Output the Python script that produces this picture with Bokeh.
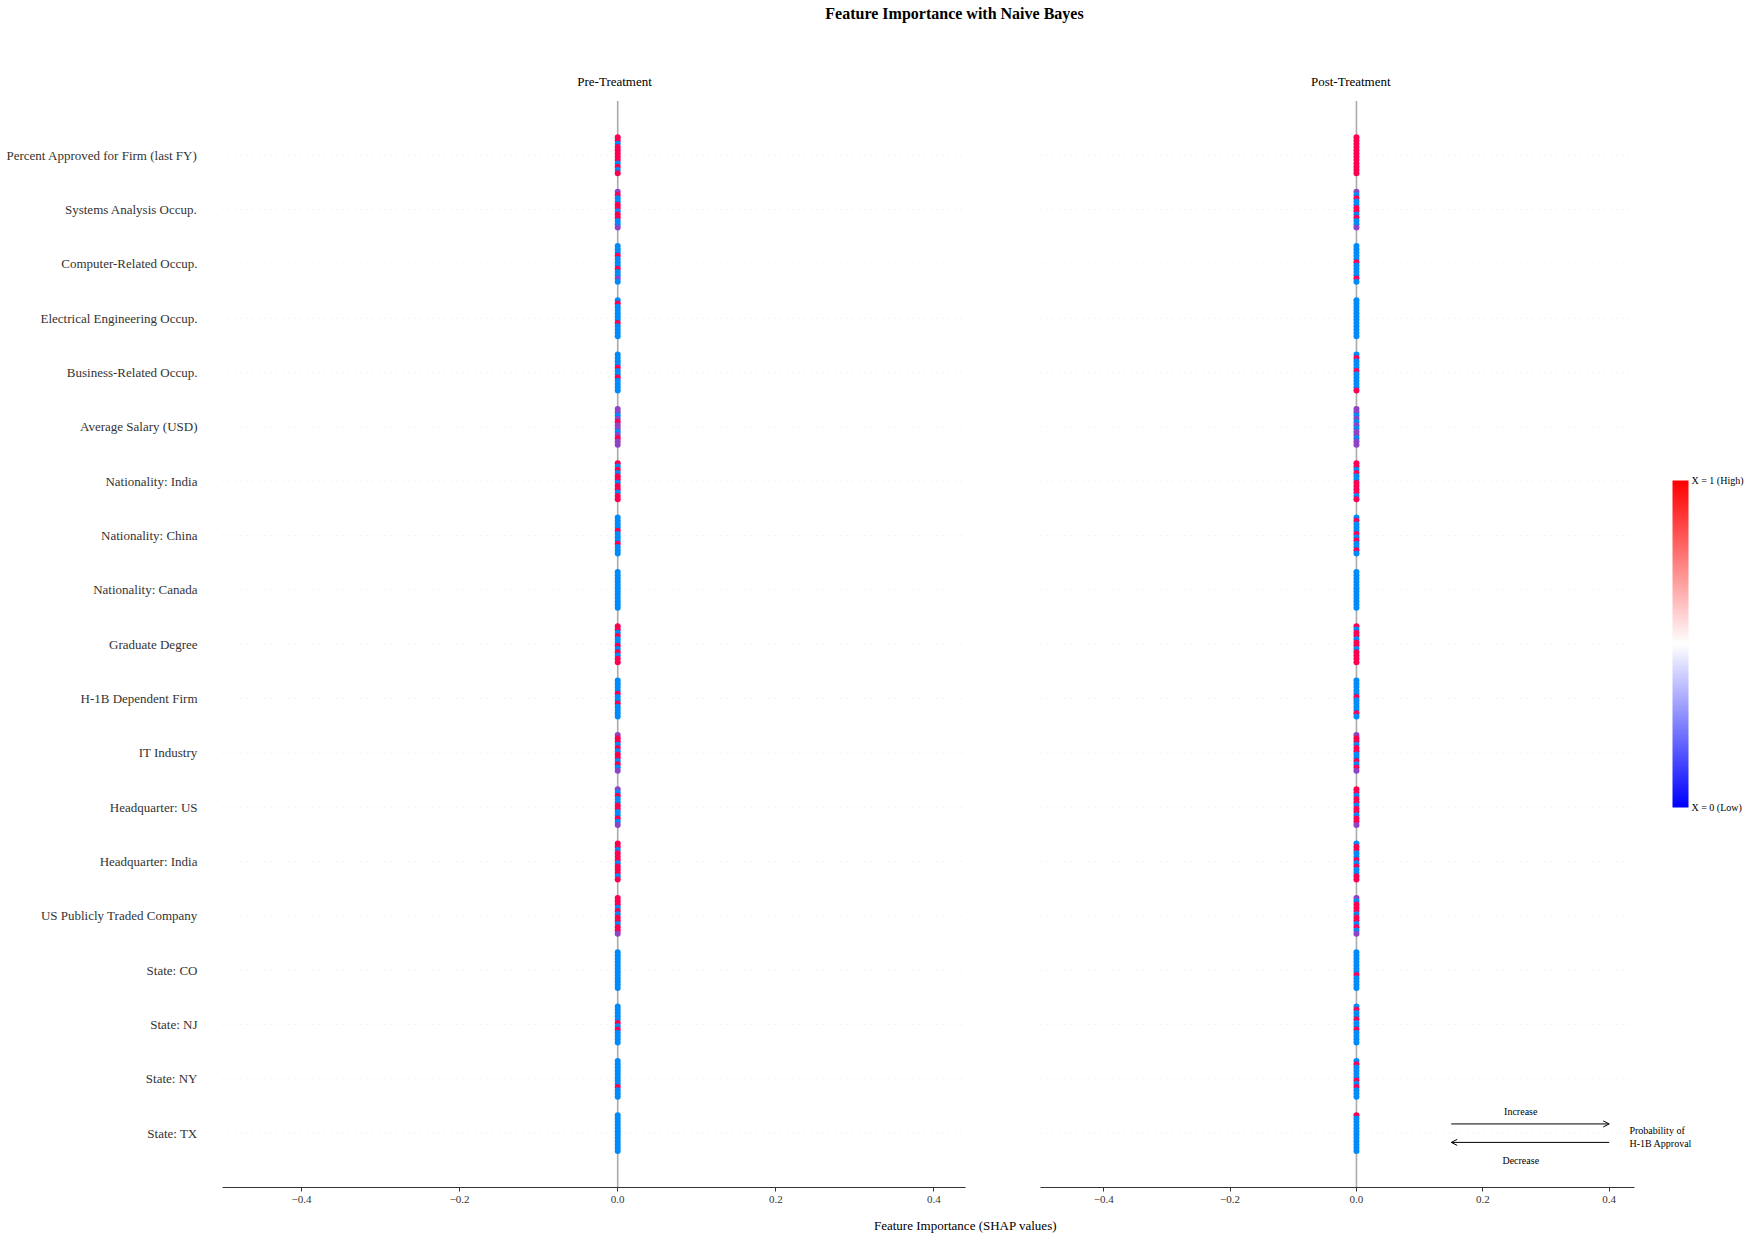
import numpy as np
from bokeh.plotting import figure
from bokeh.layouts import row, column
from bokeh.models import (Range1d, FixedTicker, Arrow, OpenHead, Label,
                          ColorBar, LinearColorMapper, ColumnDataSource)
from bokeh.core.properties import value
from bokeh.embed import file_html
from bokeh.resources import INLINE

# ---------------- data ----------------
features = [
    "Percent Approved for Firm (last FY)",
    "Systems Analysis Occup.",
    "Computer-Related Occup.",
    "Electrical Engineering Occup.",
    "Business-Related Occup.",
    "Average Salary (USD)",
    "Nationality: India",
    "Nationality: China",
    "Nationality: Canada",
    "Graduate Degree",
    "H-1B Dependent Firm",
    "IT Industry",
    "Headquarter: US",
    "Headquarter: India",
    "US Publicly Traded Company",
    "State: CO",
    "State: NJ",
    "State: NY",
    "State: TX",
]

# SHAP values (all practically zero for Naive Bayes)
pre_shap = [0.0, 0.0, 0.0, 0.0, 0.0, 0.0, 0.0, 0.0, 0.0, 0.0,
            0.0, 0.0, 0.0, 0.0, 0.0, 0.0, 0.0, 0.0, 0.0]
post_shap = [0.0, 0.0, 0.0, 0.0, 0.0, 0.0, 0.0, 0.0, 0.0, 0.0,
             0.0, 0.0, 0.0, 0.0, 0.0, 0.0, 0.0, 0.0, 0.0]

# feature values of the stacked points, top to bottom (H = high, M = mid, L = low)
pre_values = [
    "HHLHHHHHLHLH",
    "MHLLHHLHHLLM",
    "LLLHLLLHLLML",
    "LHLLLLLHLLLL",
    "LLLLHLLHLLLL",
    "MMLMHMMLMHMM",
    "HLHLHHLHHLHH",
    "LLLLHLLLHLLL",
    "LLLLLLLLLLLL",
    "HHLHLLHLHLHH",
    "LLLLHLLHLLLL",
    "MHHLHLHHLHLM",
    "MLHLLHHLLHLM",
    "HHLHHHLHHHLH",
    "HHHLHLHHLHHM",
    "LLLLLLLLLLLL",
    "LLLLLHLHLLLL",
    "LLLLLLLLHLLL",
    "LLLLLLLLLLLL",
]
post_values = [
    "HHHHHHHHHHHH",
    "MLHLLHHLHLLM",
    "LLLLLHLLLLHL",
    "LLLLLLLLLLLL",
    "LHLLLHLLLLLH",
    "MMLMLMLMMLMM",
    "HHLHLLHHHHLH",
    "LHLLLHLHLLHL",
    "LLLLLLLLLLLL",
    "HLHHLHHLHHHH",
    "LLLLLHLLLLHL",
    "MHHLHHLLHLHM",
    "HHLHHLHHLHHM",
    "LHHLLHLHLLHH",
    "MLHHHLHHLHLM",
    "LLLLLLLHLLLL",
    "LHLLHLLHLLLL",
    "LHLLLLHLHLLL",
    "HLLLLLLLLLLL",
]

x_ticks = [-0.4, -0.2, 0.0, 0.2, 0.4]
x_tick_labels = ["\u22120.4", "\u22120.2", "0.0", "0.2", "0.4"]
x_limits = (-0.5, 0.44)

# ---------------- style / layout ----------------
FONT = "Liberation Serif"
POINT_COLORS = {"H": "#ff0051", "L": "#008bfb", "M": "#8e44c4"}
TOTAL_W = 1755
HEAD_H, MID_H, FOOT_H = 40, 1170, 27
LEFT_W = 1000
RIGHT_W = TOTAL_W - LEFT_W
N = len(features)

ROW_PX = 54.33                 # pixels per feature row
FRAME_BOTTOM = 1187            # page y of the x axis
AXIS_TOP = 101.2               # page y where the y=N row limit lies
BORDER_BOTTOM = HEAD_H + MID_H - FRAME_BOTTOM
FRAME_H = MID_H - BORDER_BOTTOM
Y_TOP = -1 + FRAME_H / ROW_PX
TITLE_Y = N + (AXIS_TOP - 82) / ROW_PX

L_BL, L_BR = 222, 35
R_BL, R_BR = 40, 0
PX_PER_UNIT = 594 / (x_limits[1] - x_limits[0])   # right panel scale
R_FRAME_W = RIGHT_W - R_BL - R_BR
R_X_HI = x_limits[0] + R_FRAME_W / PX_PER_UNIT


def bwr_palette(n=256):
    out = []
    for t in np.linspace(0, 1, n):
        if t <= 0.5:
            s = t / 0.5
            r, g, b = 255 * s, 255 * s, 255
        else:
            s = (t - 0.5) / 0.5
            r, g, b = 255, 255 * (1 - s), 255 * (1 - s)
        out.append("#%02x%02x%02x" % (int(round(r)), int(round(g)), int(round(b))))
    return out


def panel_source(values, shap):
    xs, ys, cs = [], [], []
    for k, (vals, sv) in enumerate(zip(values, shap)):
        yc = N - 1 - k
        offs = np.linspace(0.33, -0.33, len(vals))
        for ch, off in zip(vals, offs):
            xs.append(sv)
            ys.append(yc + off)
            cs.append(POINT_COLORS[ch])
    return ColumnDataSource(dict(x=xs, y=ys, c=cs))


def make_panel(title, values, shap, width, bl, br, x_hi, show_labels, title_x):
    p = figure(width=width, height=MID_H,
               x_range=Range1d(x_limits[0], x_hi), y_range=Range1d(-1, Y_TOP),
               output_backend="svg", toolbar_location=None,
               y_axis_location="left" if show_labels else None,
               min_border_left=bl, min_border_right=br,
               min_border_top=0, min_border_bottom=BORDER_BOTTOM)
    p.outline_line_color = None
    p.background_fill_color = "white"
    p.border_fill_color = "white"
    p.grid.visible = False

    xa = p.xaxis[0]
    xa.bounds = x_limits
    xa.ticker = FixedTicker(ticks=x_ticks)
    xa.major_label_overrides = {t: l for t, l in zip(x_ticks, x_tick_labels)}
    xa.axis_line_color = "#333333"
    xa.axis_line_width = 1
    xa.major_tick_line_color = "#333333"
    xa.major_tick_out = 4
    xa.major_tick_in = 0
    xa.minor_tick_line_color = None
    xa.major_label_standoff = 4
    xa.major_label_text_font = FONT
    xa.major_label_text_font_size = "11px"
    xa.major_label_text_color = "#333333"

    if show_labels:
        ya = p.yaxis[0]
        ya.ticker = FixedTicker(ticks=list(range(N)))
        ya.major_label_overrides = {N - 1 - k: f for k, f in enumerate(features)}
        ya.axis_line_color = None
        ya.major_tick_line_color = None
        ya.minor_tick_line_color = None
        ya.major_tick_out = 0
        ya.major_tick_in = 0
        ya.major_label_standoff = 25
        ya.major_label_text_font = FONT
        ya.major_label_text_font_size = "13px"
        ya.major_label_text_color = "#333333"

    rows = list(range(N))
    # dotted row guide lines
    p.segment(x0=[x_limits[0]] * N, x1=[x_limits[1]] * N, y0=rows, y1=rows,
              line_color="#dddddd", line_width=0.6, line_dash="1 5")
    # zero line
    p.segment(x0=[0], x1=[0], y0=[-1], y1=[N], line_color="#aaaaaa", line_width=1.6)

    src = panel_source(values, shap)
    p.scatter(x="x", y="y", source=src, size=6, fill_color="c", line_color=None)

    p.add_layout(Label(x=title_x, y=TITLE_Y, text=title, text_font=FONT,
                       text_font_size="13px", text_align="center",
                       text_baseline="middle", text_color="black"))
    return p


left = make_panel("Pre-Treatment", pre_values, pre_shap, LEFT_W, L_BL, L_BR,
                  x_limits[1], True, -0.004)
right = make_panel("Post-Treatment", post_values, post_shap, RIGHT_W, R_BL, R_BR,
                   R_X_HI, False, -0.009)

# direction arrows and labels
right.add_layout(Arrow(end=OpenHead(size=6, line_width=1, line_color="black"),
                       x_start=0.15, y_start=0.17, x_end=0.40, y_end=0.17,
                       line_width=1, line_color="black"))
right.add_layout(Arrow(end=OpenHead(size=6, line_width=1, line_color="black"),
                       x_start=0.40, y_start=-0.17, x_end=0.15, y_end=-0.17,
                       line_width=1, line_color="black"))
right.add_layout(Label(x=0.26, y=0.40, text="Increase", text_font=FONT,
                       text_font_size="10px", text_align="center",
                       text_baseline="middle", text_color="black"))
right.add_layout(Label(x=0.26, y=-0.51, text="Decrease", text_font=FONT,
                       text_font_size="10px", text_align="center",
                       text_baseline="middle", text_color="black"))
right.add_layout(Label(x=0.432, y=-0.07, text="Probability of\nH-1B Approval",
                       text_font=FONT, text_font_size="10px", text_align="left",
                       text_baseline="middle", text_color="black"))

# colour bar (position in pixels from frame's lower-left corner)
mapper = LinearColorMapper(palette=bwr_palette(), low=0, high=1)
cb = ColorBar(color_mapper=mapper, ticker=FixedTicker(ticks=[0, 1]),
              major_label_overrides={0: "X = 0 (Low)", 1: "X = 1 (High)"},
              width=16, height=327, location=(1672 - 1040, FRAME_BOTTOM - 807),
              padding=0, margin=0,
              label_standoff=3, major_tick_line_color=None, minor_tick_line_color=None,
              bar_line_color=None, border_line_color=None,
              background_fill_color=None,
              major_label_text_font=FONT, major_label_text_font_size="10px",
              major_label_text_color="black")
right.add_layout(cb, "center")

# header (suptitle) and footer (shared x label)
header = figure(width=TOTAL_W, height=HEAD_H, x_range=Range1d(0, TOTAL_W),
                y_range=Range1d(0, HEAD_H), x_axis_location=None, y_axis_location=None,
                min_border=0, toolbar_location=None, output_backend="svg")
header.outline_line_color = None
header.grid.visible = False
header.text(x=[954], y=[HEAD_H - 13], text=["Feature Importance with Naive Bayes"],
            text_font=value(FONT), text_font_style="bold", text_font_size="16px",
            text_align="center", text_baseline="middle", text_color="black")

footer = figure(width=TOTAL_W, height=FOOT_H, x_range=Range1d(0, TOTAL_W),
                y_range=Range1d(0, FOOT_H), x_axis_location=None, y_axis_location=None,
                min_border=0, toolbar_location=None, output_backend="svg")
footer.outline_line_color = None
footer.grid.visible = False
footer.text(x=[965], y=[FOOT_H - 15], text=["Feature Importance (SHAP values)"],
            text_font=value(FONT), text_font_size="13px",
            text_align="center", text_baseline="middle", text_color="black")

layout = column(header, row(left, right, spacing=0), footer, spacing=0)

with open("out.html", "w") as f:
    f.write(file_html(layout, INLINE))
